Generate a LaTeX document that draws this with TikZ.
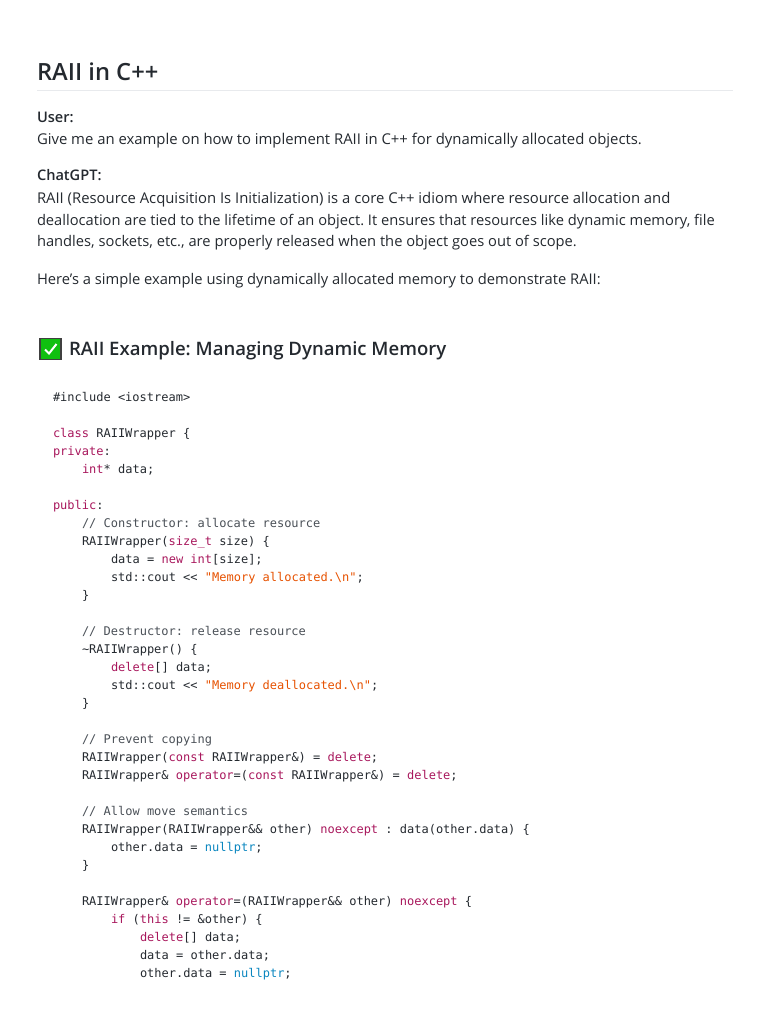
\documentclass[tikz,border=0pt]{standalone}
\usepackage{fontspec}
\setmainfont{Open Sans}
\newfontfamily\headfont{Open Sans Semibold}
\newfontfamily\codefont{DejaVu Sans Mono}
\usepackage{tikz}
\usetikzlibrary{positioning}
\definecolor{inktext}{HTML}{24292F}
\definecolor{inkrule}{HTML}{E8EAED}
\definecolor{inkkey}{HTML}{A8175C}
\definecolor{inkstr}{HTML}{E65100}
\definecolor{inklit}{HTML}{0A86BF}
\definecolor{inkcmt}{HTML}{4A5057}
\definecolor{inkbox}{HTML}{10C010}
\newcommand{\kw}[1]{\textcolor{inkkey}{#1}}
\newcommand{\st}[1]{\textcolor{inkstr}{#1}}
\newcommand{\lt}[1]{\textcolor{inklit}{#1}}
\tikzset{
  line/.style={anchor=base west,inner sep=0pt,outer sep=0pt,text=inktext,font=\fontsize{#1}{17}\selectfont\frenchspacing},
  line/.default=14.87,
  head/.style={line,font=\headfont\fontsize{#1}{24}\selectfont\frenchspacing},
  code/.style={anchor=base west,inner sep=0pt,outer sep=0pt,text=inktext,font=\codefont\fontsize{12}{14}\selectfont\frenchspacing},
  note/.style={code,text=inkcmt},
}
\begin{document}
\begin{tikzpicture}[x=1pt,y=-1pt]
  \useasboundingbox (0,0) rectangle (768,1024);
  % page header
  \node[head=23.7] (title) at (37,81) {RAII in C++};
  \coordinate (ruleL) at (37,91);
  \coordinate (ruleR) at (733,91);
  \draw [color=inkrule, line width=1pt] (ruleL) -- (ruleR);
  \node[head=14.6] (user) at (37,122.5) {User:};
  \node[line] (ask) at (37,144.5) {Give me an example on how to implement RAII in C++ for dynamically allocated objects.};
  \node[head=14.6] (gpt) at (37,180.5) {ChatGPT:};
  \node[line=14.85] (para1) at (37,203.5) {RAII (Resource Acquisition Is Initialization) is a core C++ idiom where resource allocation and};
  \node[line=14.68] (para2) at (37,225.5) {deallocation are tied to the lifetime of an object. It ensures that resources like dynamic memory, file};
  \node[line=14.7] (para3) at (37,247) {handles, sockets, etc., are properly released when the object goes out of scope.};
  \node[line=14.72] (para4) at (37,284) {Here's a simple example using dynamically allocated memory to demonstrate RAII:};
  % check mark box
  \draw [fill=inkbox, draw=black!75, line width=1.4pt] (40,338.5) rectangle (61,359.5);
  \draw [white, line width=2pt] (45,349.5) -- (49,353.5) -- (56.5,344);
  \node[head=18.55] (sect) at (69,355) {RAII Example: Managing Dynamic Memory};
  % code lines
  \node[code] (c01) at (53,401) {\#include <iostream>};
  \node[code] (c02) at (53,437) {\kw{class} RAIIWrapper \{};
  \node[code] (c03) at (53,455) {\kw{private}:};
  \node[code] (c04) at (82,473) {\kw{int}* data;};
  \node[code] (c05) at (53,509) {\kw{public}:};
  \node[note] (c06) at (82,527) {// Constructor: allocate resource};
  \node[code] (c07) at (82,545) {RAIIWrapper(\kw{size\_t} size) \{};
  \node[code] (c08) at (111,563) {data = \kw{new} \kw{int}[size];};
  \node[code] (c09) at (111,581) {std::cout << \st{"Memory allocated.\textbackslash n"};};
  \node[code] (c10) at (82,599) {\}};
  \node[note] (c11) at (82,635) {// Destructor: release resource};
  \node[code] (c12) at (82,653) {\textasciitilde RAIIWrapper() \{};
  \node[code] (c13) at (111,671) {\kw{delete}[] data;};
  \node[code] (c14) at (111,689) {std::cout << \st{"Memory deallocated.\textbackslash n"};};
  \node[code] (c15) at (82,707) {\}};
  \node[note] (c16) at (82,743) {// Prevent copying};
  \node[code] (c17) at (82,761) {RAIIWrapper(\kw{const} RAIIWrapper\&) = \kw{delete};};
  \node[code] (c18) at (82,779) {RAIIWrapper\& \kw{operator}=(\kw{const} RAIIWrapper\&) = \kw{delete};};
  \node[note] (c19) at (82,815) {// Allow move semantics};
  \node[code] (c20) at (82,833) {RAIIWrapper(RAIIWrapper\&\& other) \kw{noexcept} : data(other.data) \{};
  \node[code] (c21) at (111,851) {other.data = \lt{nullptr};};
  \node[code] (c22) at (82,869) {\}};
  \node[code] (c23) at (82,905) {RAIIWrapper\& \kw{operator}=(RAIIWrapper\&\& other) \kw{noexcept} \{};
  \node[code] (c24) at (111,923) {\kw{if} (\kw{this} != \&other) \{};
  \node[code] (c25) at (140,941) {\kw{delete}[] data;};
  \node[code] (c26) at (140,959) {data = other.data;};
  \node[code] (c27) at (140,977) {other.data = \lt{nullptr};};
\end{tikzpicture}
\end{document}
